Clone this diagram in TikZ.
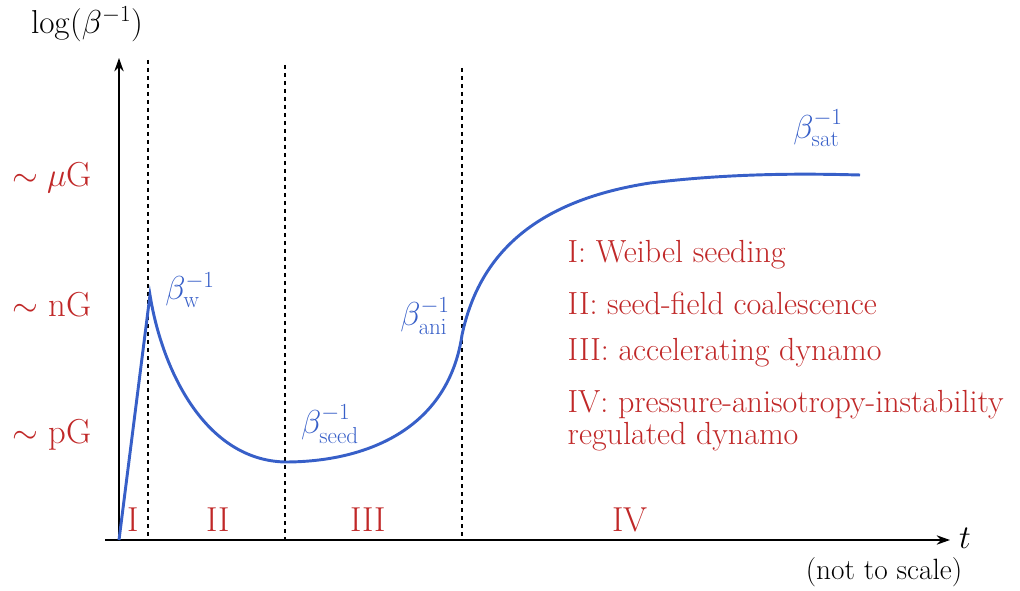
\documentclass[tikz,border=0pt]{standalone}
\usepackage{amsmath}
\usetikzlibrary{arrows.meta}
\definecolor{myred}{RGB}{192,40,40}
\definecolor{myblue}{RGB}{55,95,200}
\begin{document}
\begin{tikzpicture}[x=0.75pt,y=-0.75pt,
  ax/.style={line width=1.3pt,-{Stealth[length=10pt,width=7pt]}},
  dl/.style={dashed,line width=0.9pt},
  rl/.style={color=myred,font=\fontsize{26}{28}\selectfont},
  bl/.style={color=myblue,font=\fontsize{27}{30}\selectfont},
  lg/.style={color=myred,font=\fontsize{24}{28}\selectfont,anchor=west}]
\useasboundingbox (0,0) rectangle (1020,591);
\coordinate (o) at (119,540);
\coordinate (ytop) at (119,58);
\coordinate (xs) at (105,540);
\coordinate (xe) at (950,540);
\draw[ax] (o) -- (ytop);
\draw[ax] (xs) -- (xe);
\foreach \x/\t in {148/60,285/65,462/68}{\draw[dl] (\x,\t) -- (\x,540);}
\draw[myblue,line width=2.2pt] (o) -- (150,295)
  .. controls (162,370) and (205,460) .. (285,462)
  .. controls (365,462) and (448,430) .. (462,335)
  .. controls (480,250) and (540,200) .. (650,183)
  .. controls (740,172) and (820,174) .. (860,175);
\node[font=\fontsize{26}{28}\selectfont] (yl) at (87,24) {$\log(\beta^{-1})$};
\node[rl] (mu) at (52,178) {$\sim\mu$G};
\node[rl] (n) at (52,305) {$\sim$ nG};
\node[rl] (p) at (52,435) {$\sim$ pG};
\node[bl] (bw) at (190,290) {$\beta_{\mathrm{w}}^{-1}$};
\node[bl] (bs) at (330,424) {$\beta_{\mathrm{seed}}^{-1}$};
\node[bl] (ba) at (425,316) {$\beta_{\mathrm{ani}}^{-1}$};
\node[bl] (bt) at (818,128) {$\beta_{\mathrm{sat}}^{-1}$};
\node[rl] (r1) at (133,520) {I};
\node[rl] (r2) at (218,520) {II};
\node[rl] (r3) at (368,520) {III};
\node[rl] (r4) at (630,520) {IV};
\node[font=\fontsize{32}{34}\selectfont] (t) at (965,538) {$t$};
\node[font=\fontsize{22}{24}\selectfont] (ns) at (884,572) {(not to scale)};
\node[lg] (l1) at (563,255) {I: Weibel seeding};
\node[lg] (l2) at (563,303) {II: seed-field coalescence};
\node[lg] (l3) at (563,353) {III: accelerating dynamo};
\node[lg] (l4) at (563,405) {IV: pressure-anisotropy-instability};
\node[lg] (l5) at (563,437) {regulated dynamo};
\end{tikzpicture}
\end{document}
